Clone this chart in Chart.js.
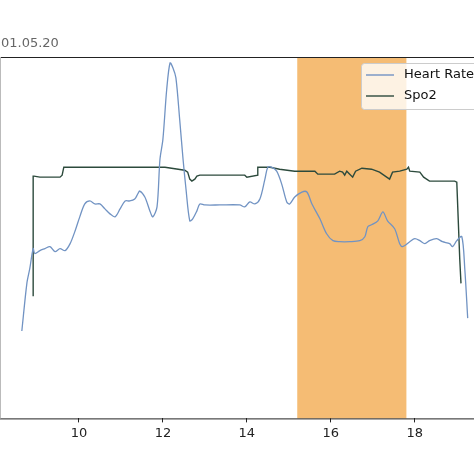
<!DOCTYPE html>
<html>
<head>
<meta charset="utf-8">
<script src="https://cdn.jsdelivr.net/npm/chart.js@4/dist/chart.umd.min.js"></script>
<style>
  html, body { margin: 0; padding: 0; background: #fff; }
  #wrap { position: relative; width: 474px; height: 474px; }
  #title { position: absolute; left: 1px; top: 35px; font: 13px "DejaVu Sans", sans-serif; color: #666; }
</style>
</head>
<body>
<div id="wrap">
  <div id="title">01.05.20</div>
  <canvas id="c" width="474" height="474"></canvas>
</div>
<script>
// hours of day
const hrTimes = [8.64, 8.76, 8.83, 8.91, 8.95, 9.07, 9.19, 9.31, 9.43, 9.55, 9.67, 9.79, 9.91, 10.02, 10.14, 10.26, 10.38, 10.50, 10.62, 10.74, 10.86, 10.98, 11.10, 11.21, 11.33, 11.40, 11.45, 11.57, 11.69, 11.76, 11.86, 11.93, 12.00, 12.09, 12.17, 12.24, 12.31, 12.40, 12.48, 12.55, 12.64, 12.71, 12.81, 12.88, 13.00, 13.36, 13.83, 13.95, 14.07, 14.19, 14.31, 14.43, 14.50, 14.59, 14.71, 14.83, 14.95, 15.02, 15.14, 15.31, 15.43, 15.55, 15.74, 15.90, 16.05, 16.21, 16.45, 16.69, 16.81, 16.88, 16.97, 17.12, 17.24, 17.35, 17.52, 17.64, 17.71, 17.88, 18.00, 18.12, 18.24, 18.35, 18.52, 18.66, 18.83, 18.90, 19.00, 19.12, 19.19, 19.26];
const hrValues = [88, 136, 151, 171, 166, 169, 171, 173, 168, 171, 169, 176, 189, 203, 216, 219, 216, 216, 211, 206, 203, 211, 219, 219, 221, 226, 229, 223, 209, 203, 213, 261, 281, 331, 358, 353, 343, 301, 261, 231, 199, 201, 209, 216, 215, 215, 215, 213, 218, 216, 221, 241, 253, 253, 249, 236, 218, 216, 223, 228, 228, 216, 201, 186, 179, 178, 178, 179, 183, 193, 195, 199, 208, 199, 191, 176, 173, 178, 181, 179, 176, 179, 181, 178, 176, 173, 179, 183, 151, 101];
const spoTimes = [8.91, 8.91, 8.93, 9.07, 9.55, 9.60, 9.64, 9.69, 12.05, 12.52, 12.59, 12.64, 12.69, 12.76, 12.81, 12.88, 13.95, 14.00, 14.26, 14.26, 14.55, 14.78, 15.14, 15.62, 15.69, 16.09, 16.21, 16.28, 16.33, 16.38, 16.45, 16.52, 16.59, 16.74, 16.97, 17.16, 17.33, 17.40, 17.47, 17.64, 17.81, 17.85, 17.88, 18.12, 18.21, 18.35, 18.95, 19.00, 19.07, 19.10];
const spoValues = [123, 244, 244, 243, 243, 245, 253, 253, 253, 250, 248, 241, 239, 241, 244, 245, 245, 243, 245, 253, 253, 251, 249, 249, 246, 246, 249, 248, 245, 249, 246, 243, 249, 252, 251, 248, 243, 241, 248, 249, 251, 253, 249, 248, 243, 239, 239, 238, 161, 136];
const xTicks = [10, 12, 14, 16, 18];
const band = [15.2, 17.8];
const seriesNames = ['Heart Rate', 'Spo2'];
const seriesColors = ['#7193c3', '#2c4a3c'];

const toPoints = (xs, ys) => xs.map((x, i) => ({ x, y: ys[i] }));

const bandPlugin = {
  id: 'band',
  beforeDatasetsDraw(chart) {
    const { ctx, chartArea, scales } = chart;
    const x0 = scales.x.getPixelForValue(band[0]);
    const x1 = scales.x.getPixelForValue(band[1]);
    ctx.save();
    ctx.fillStyle = '#f5bc74';
    ctx.fillRect(x0, chartArea.top, x1 - x0, chartArea.bottom - chartArea.top);
    ctx.restore();
  },
  afterDatasetsDraw(chart) {
    const { ctx, chartArea } = chart;
    ctx.save();
    ctx.strokeStyle = '#222';
    ctx.lineWidth = 1;
    ctx.beginPath();
    ctx.moveTo(chartArea.left, chartArea.top + 0.5);
    ctx.lineTo(chartArea.right, chartArea.top + 0.5);
    ctx.moveTo(chartArea.left, chartArea.bottom + 0.5);
    ctx.lineTo(chartArea.right, chartArea.bottom + 0.5);
    ctx.stroke();
    ctx.strokeStyle = '#bbb';
    ctx.beginPath();
    ctx.moveTo(chartArea.left + 0.5, chartArea.top);
    ctx.lineTo(chartArea.left + 0.5, chartArea.bottom);
    ctx.stroke();
    // legend box
    ctx.fillStyle = 'rgba(255,255,255,0.8)';
    ctx.strokeStyle = '#ccc';
    ctx.beginPath();
    ctx.roundRect(361.5, 63.5, 130, 46, 3);
    ctx.fill();
    ctx.stroke();
    ctx.font = '13px "DejaVu Sans"';
    ctx.textBaseline = 'middle';
    seriesNames.forEach((name, i) => {
      const y = 75 + i * 21;
      ctx.strokeStyle = seriesColors[i];
      ctx.lineWidth = 1.4;
      ctx.beginPath();
      ctx.moveTo(366, y);
      ctx.lineTo(394, y);
      ctx.stroke();
      ctx.fillStyle = '#111';
      ctx.fillText(name, 404, y);
    });
    ctx.restore();
  },
};

new Chart(document.getElementById('c'), {
  type: 'line',
  data: {
    datasets: [
      { label: seriesNames[0], data: toPoints(hrTimes, hrValues), borderColor: seriesColors[0], borderWidth: 1.3, pointRadius: 0, tension: 0.3 },
      { label: seriesNames[1], data: toPoints(spoTimes, spoValues), borderColor: seriesColors[1], borderWidth: 1.4, pointRadius: 0, tension: 0 },
    ],
  },
  options: {
    responsive: false,
    animation: false,
    layout: { padding: { top: 57, bottom: 30, left: 0, right: 0 } },
    plugins: { legend: { display: false }, tooltip: { enabled: false } },
    scales: {
      x: {
        type: 'linear',
        min: 8.12,
        max: 19.41,
        afterBuildTicks: (axis) => { axis.ticks = xTicks.map((v) => ({ value: v })); },
        grid: { display: true, drawOnChartArea: false, tickLength: 4, color: '#222' },
        border: { display: false },
        ticks: { color: '#222', font: { family: 'DejaVu Sans', size: 13 }, padding: 3, maxRotation: 0 },
      },
      y: { display: false, min: 0, max: 364 },
    },
  },
  plugins: [bandPlugin],
});
</script>
</body>
</html>
